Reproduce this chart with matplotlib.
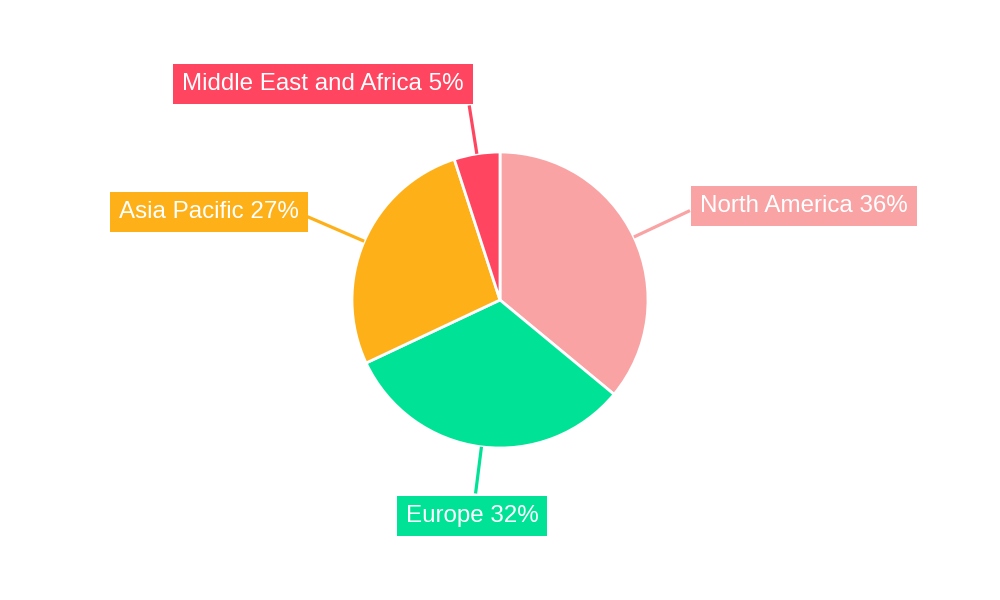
import numpy as np
import matplotlib
matplotlib.use("Agg")
import matplotlib.pyplot as plt

regions = ["North America", "Europe", "Asia Pacific", "Middle East and Africa"]
shares = [36, 32, 27, 5]
colors = ["#F9A3A4", "#00E396", "#FEB019", "#FF4560"]

# layout (pixel space, y measured from the bottom)
CX, CY, R = 500, 300, 148
line_end = [210, 195, 210, 197]
box_center = [(804, 394), (472, 84), (209, 388), (323, 516)]

plt.rcParams['font.family'] = ['Liberation Sans', 'DejaVu Sans']

fig = plt.figure(figsize=(10, 6), dpi=100)
ax = fig.add_axes([0, 0, 1, 1])

ax.pie(shares, colors=colors, startangle=90, counterclock=False,
       center=(CX, CY), radius=R,
       wedgeprops=dict(edgecolor="white", linewidth=2))

start = 90.0
for i, (name, val) in enumerate(zip(regions, shares)):
    span = 360.0 * val / sum(shares)
    mid = np.radians(start - span / 2)
    start -= span
    x0, y0 = CX + R * np.cos(mid), CY + R * np.sin(mid)
    x1, y1 = CX + line_end[i] * np.cos(mid), CY + line_end[i] * np.sin(mid)
    ax.plot([x0, x1], [y0, y1], color=colors[i], lw=2.3, solid_capstyle="butt", zorder=1)
    bx, by = box_center[i]
    ax.text(bx, by, f"{name} {val}%", ha="center", va="center", color="white",
            fontsize=17.4, zorder=3,
            bbox=dict(boxstyle="square,pad=0.36", fc=colors[i], ec="none"))

ax.set_xlim(0, 1000)
ax.set_ylim(0, 600)
ax.set_aspect("equal")
ax.axis("off")

fig.savefig("out.png", dpi=100, facecolor="white")
